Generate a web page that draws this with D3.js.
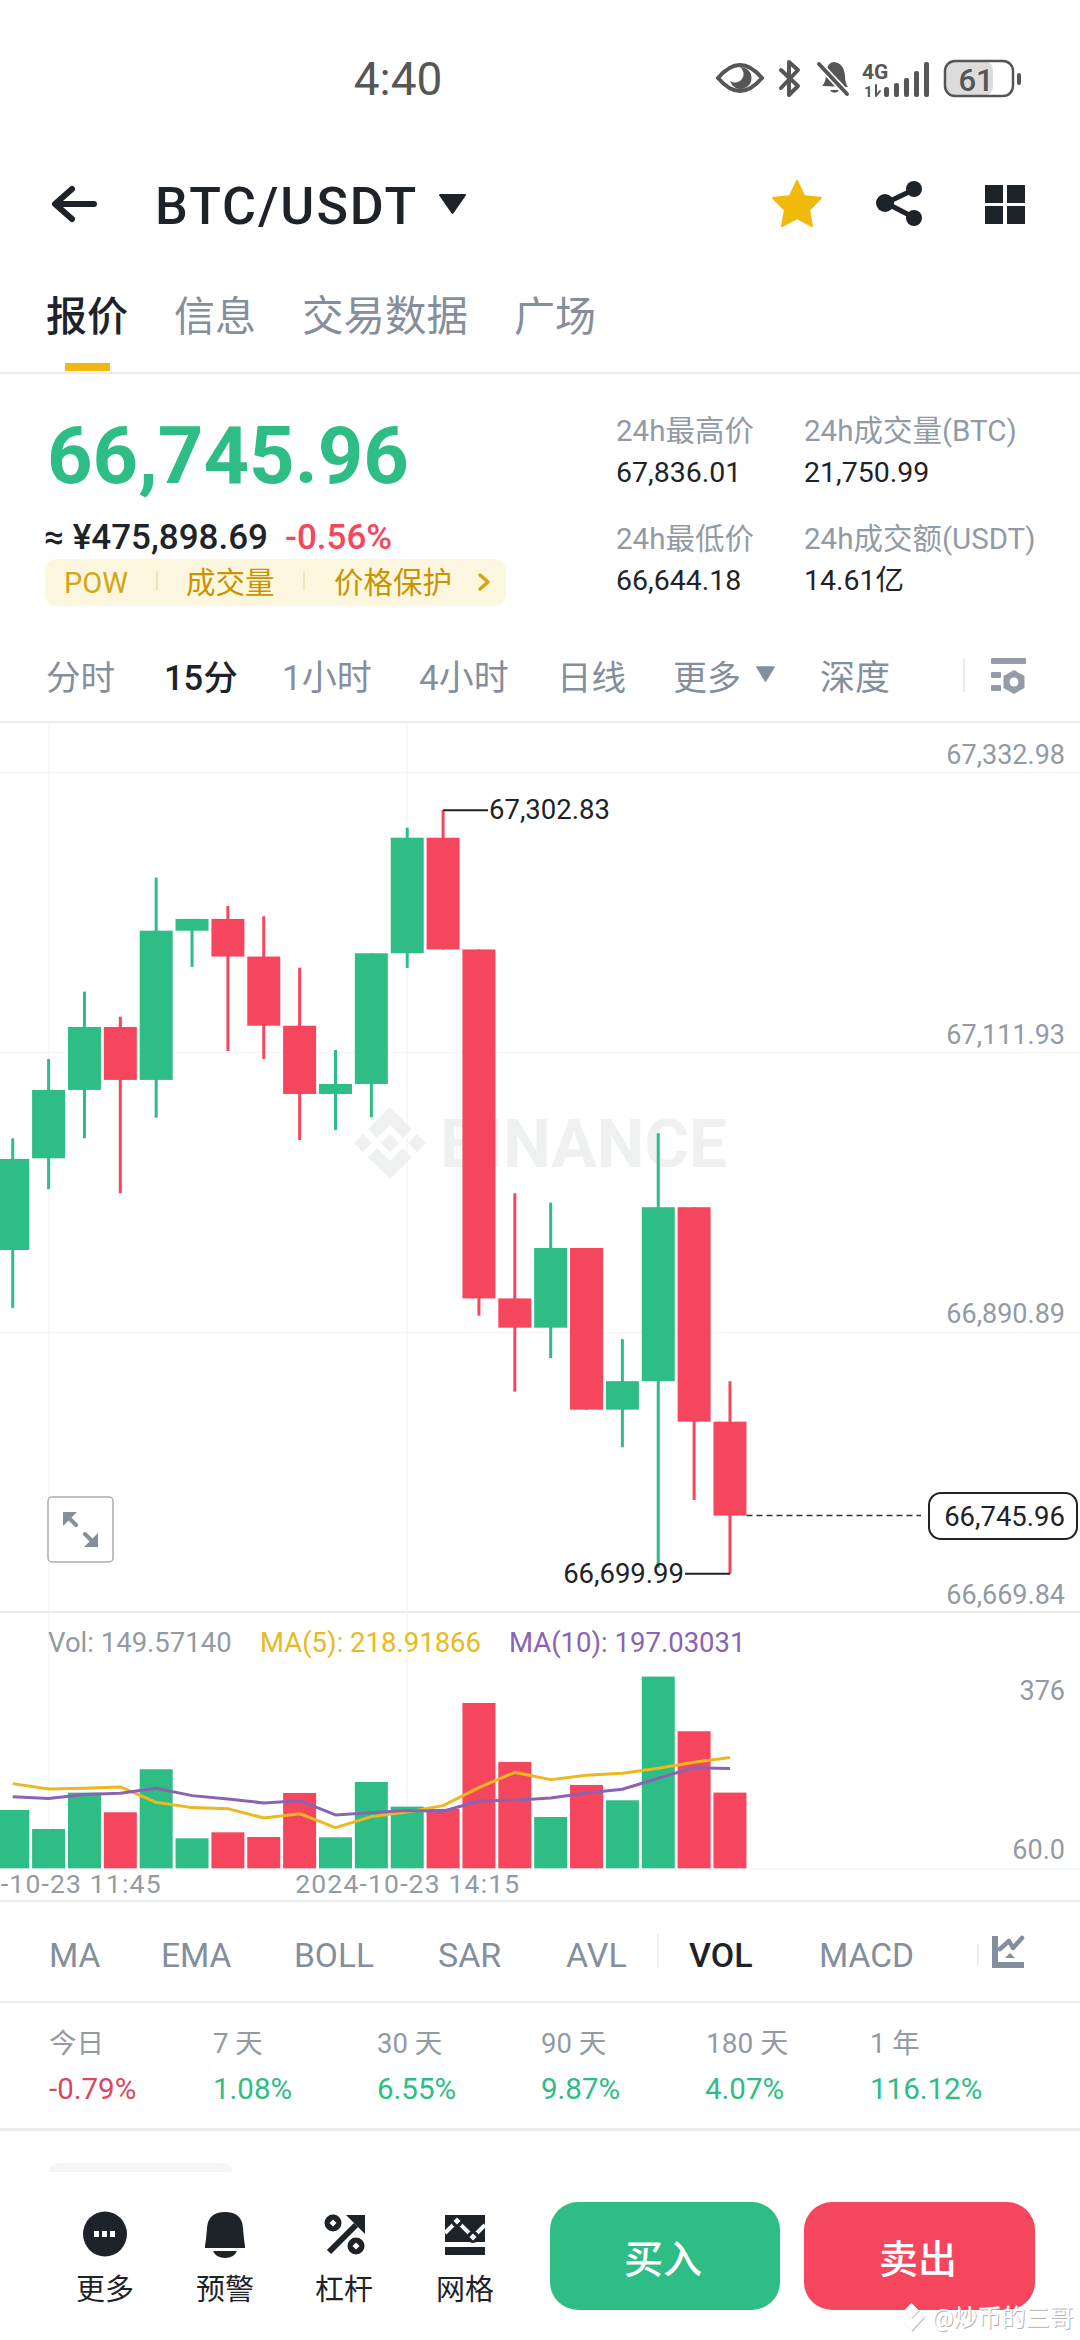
<!DOCTYPE html>
<html>
<head>
<meta charset="utf-8">
<script src="https://cdn.jsdelivr.net/npm/d3@7"></script>
<style>
html, body { margin: 0; padding: 0; background: #fff; }
svg { display: block; }
text { font-family: Roboto, "Noto Sans CJK SC", sans-serif; }
</style>
</head>
<body>
<svg id="screen" width="1080" height="2340"></svg>
<script>
var times = ["2024-10-23 11:30", "2024-10-23 11:45", "2024-10-23 12:00", "2024-10-23 12:15", "2024-10-23 12:30", "2024-10-23 12:45", "2024-10-23 13:00",
	"2024-10-23 13:15", "2024-10-23 13:30", "2024-10-23 13:45", "2024-10-23 14:00", "2024-10-23 14:15", "2024-10-23 14:30", "2024-10-23 14:45",
	"2024-10-23 15:00", "2024-10-23 15:15", "2024-10-23 15:30", "2024-10-23 15:45", "2024-10-23 16:00", "2024-10-23 16:15", "2024-10-23 16:30"];
var opens = [66955.6, 67028, 67082, 67131.7, 67089.9, 67207.7, 67217, 67187.3, 67132.7, 67078.8, 67086.7, 67189.9, 67281.1, 67192.9, 66917.4, 66894.3, 66957.2, 66829.6, 66852.1, 66989.4, 66820.1];
var closes = [67027.5, 67082, 67131.7, 67089.9, 67207.7, 67217, 67187.3, 67132.7, 67078.8, 67086.7, 67189.9, 67281.1, 67192.9, 66917.4, 66894.3, 66957.2, 66829.6, 66852.1, 66989.4, 66820.1, 66745.96];
var highs = [67043.8, 67106.4, 67159.6, 67139.8, 67249.6, 67217, 67227.2, 67219.1, 67178.5, 67113.5, 67189.9, 67289, 67302.83, 67192.9, 67000.4, 66993, 66957.2, 66885.2, 67047.8, 66989.4, 66852];
var lows = [66909.9, 67003.6, 67043.8, 67000.4, 67060.1, 67179.1, 67112.7, 67106.4, 67042.5, 67050.4, 67060.4, 67178.3, 67192.9, 66903.8, 66843.8, 66870.2, 66829.6, 66799.9, 66704.6, 66758.3, 66699.99];
var volumes = [115.3, 77.7, 149.5, 110.7, 195.7, 59.3, 71.1, 61.9, 148.9, 61.3, 170.6, 121.9, 117.3, 326.7, 210.1, 101.4, 164.7, 134.4, 378.8, 270.8, 149.57];
var ma5 = [167.3, 156.8, 158.1, 160.7, 130.4, 119.9, 117.9, 99.5, 108, 80.4, 102.1, 111.3, 123.8, 159.4, 189.7, 175.2, 183.8, 187.7, 197.6, 209.5, 218.92];
var ma10 = [141.6, 137.7, 145.6, 148.2, 158.1, 143.6, 137, 129.1, 133.7, 105.4, 110, 114, 112.6, 133.1, 134.4, 139, 148.9, 156.1, 177.9, 198.9, 197.03];
var priceTicks = [67332.98, 67111.93, 66890.89, 66669.84];
var volumeTicks = [376, 60];
var timeTicks = ["2024-10-23 11:45", "2024-10-23 14:15"];

var GREEN = "#2ebd85", RED = "#f6465d", GOLD = "#f0b90b", PURPLE = "#8a63b5",
	DARK = "#1e2329", GREY = "#929aa5", MUTED = "#848e9c", LINE = "#eaecef", GRID = "#f5f6f6";

var svg = d3.select("#screen");

function label(str, x, y, size, color, weight, anchor) {
	return svg.append("text")
		.attr("x", x)
		.attr("y", y)
		.attr("font-size", size)
		.attr("fill", color || DARK)
		.attr("font-weight", weight || 400)
		.attr("text-anchor", anchor || "start")
		.text(str);
}

function rule(y, height, color) {
	svg.append("rect").attr("x", 0).attr("y", y).attr("width", 1080).attr("height", height).attr("fill", color || LINE);
}

function shape(d, fill, stroke, width) {
	return svg.append("path")
		.attr("d", d)
		.attr("fill", fill || "none")
		.attr("stroke", stroke || "none")
		.attr("stroke-width", width || 0)
		.attr("stroke-linecap", "round")
		.attr("stroke-linejoin", "round");
}

function box(px, py, w, h, fill, rx) {
	return svg.append("rect").attr("x", px).attr("y", py).attr("width", w).attr("height", h).attr("fill", fill).attr("rx", rx || 0);
}

function ring(cx, cy, r, fill) {
	return svg.append("circle").attr("cx", cx).attr("cy", cy).attr("r", r).attr("fill", fill);
}

// status bar
var STATUS = "#565656";
label("4:40", 398, 95, 46, STATUS, 400, "middle");
shape("M718,78Q740,52 762,78Q740,104 718,78Z", "none", STATUS, 4);
shape("M740,67a11,11 0 1,1 -10,14a7,7 0 0,0 10,-14Z", STATUS);
shape("M781,70L798,86L789,95V62L798,70L781,88", "none", STATUS, 4);
shape("M822,86Q826,82 826,74Q827,62 834,62Q844,63 845,76Q845,83 848,87Z", STATUS);
shape("M830,90a5,5 0 0,0 9,0Z", STATUS);
shape("M819,64L847,94", "none", "#fff", 7);
shape("M819,64L847,94", "none", STATUS, 4);
label("4G", 862, 79, 21, STATUS, 700);
label("1", 864, 97, 15, STATUS, 700);
shape("M876,85V96M876,96L880,91", "none", STATUS, 2);
var signalTops = [87, 83, 78, 71, 62];
signalTops.forEach(function (top, i) {
	box(884 + i * 10, top, 5, 97 - top, STATUS, 2);
});
box(945, 61, 48, 35, "#dcdcdc", 9);
box(945, 61, 68, 35, "none", 10).attr("stroke", STATUS).attr("stroke-width", 2.5);
box(1017, 73, 4, 12, STATUS, 2);
label("61", 976, 91, 31, STATUS, 500, "middle");

// header
shape("M94,204H56M72,189L55,204L72,219", "none", DARK, 6);
label("BTC/USDT", 155, 224, 52, DARK, 500).attr("letter-spacing", 2);
shape("M440,195H465L452.5,213Z", DARK, DARK, 2);
shape("M797,181L804,196L821,198L809,210L812,226L797,218L782,226L785,210L773,198L790,196Z", GOLD, GOLD, 2);
shape("M915,189L886,203L915,218", "none", DARK, 5);
ring(914, 189, 8, DARK);
ring(885, 203, 9, DARK);
ring(914, 218, 8, DARK);
[[985, 185], [1007, 185], [985, 206], [1007, 206]].forEach(function (p) {
	box(p[0], p[1], 18, 18, DARK);
});

// tabs
label("报价", 46, 331, 41, DARK, 500);
label("信息", 174, 331, 41, MUTED);
label("交易数据", 302, 331, 41.5, MUTED);
label("广场", 514, 331, 41, MUTED);
box(65, 363, 45, 8, GOLD);
rule(372, 2);

// price block
label("66,745.96", 47, 483, 80, GREEN, 700).attr("textLength", 362).attr("lengthAdjust", "spacingAndGlyphs");
label("≈ ¥475,898.69", 44, 549, 35, DARK, 500);
label("-0.56%", 285, 549, 35, RED, 500);
box(45, 559, 461, 47, "#fdf6de", 12);
label("POW", 64, 593, 29, "#d4a514");
label("成交量", 186, 593, 29.5, "#c99400");
label("价格保护", 334, 593, 29.5, "#c99400");
shape("M157,572V590M304,572V590", "none", "#efe3b8", 2);
shape("M480,575L488,582L480,589", "none", "#d4a514", 3.5);

label("24h最高价", 616, 441, 29.5, GREY);
label("67,836.01", 616, 482, 28.5, DARK);
label("24h成交量(BTC)", 804, 441, 29.5, GREY);
label("21,750.99", 804, 482, 28.5, DARK);
label("24h最低价", 616, 549, 29.5, GREY);
label("66,644.18", 616, 590, 28.5, DARK);
label("24h成交额(USDT)", 804, 549, 29.5, GREY);
label("14.61亿", 804, 590, 28.5, DARK);

// chart period row
label("分时", 46, 690, 34.5, MUTED);
label("15分", 164, 690, 34.5, DARK, 500);
label("1小时", 282, 690, 35, MUTED);
label("4小时", 419, 690, 35, MUTED);
label("日线", 557, 690, 34.5, MUTED);
label("更多", 673, 690, 34, MUTED);
shape("M757,667H774L765.5,681Z", MUTED, MUTED, 1.5);
label("深度", 820, 690, 35, MUTED);
box(963, 658, 2, 34, LINE);
box(991, 658, 35, 6, "#949ca8", 1);
box(991, 672, 10, 6, "#949ca8", 1);
box(991, 685, 10, 6, "#949ca8", 1);
shape("M1014,670L1024.5,676V688L1014,694L1003.5,688V676Z", "#949ca8");
ring(1014, 682, 4.5, "#fff");
rule(721, 2);

// scales
var x = d3.scaleBand().domain(times).range([-5.2, 747.9]).paddingInner(0.08).paddingOuter(0.04);
var y = d3.scaleLinear().domain([66669.84, 67332.98]).range([1612, 772]);
var yVol = d3.scaleLinear().domain([0, 376]).range([1868.3, 1678]);
function centre(t) { return x(t) + x.bandwidth() / 2; }

// grid and axes
var xAxis = d3.axisBottom(x).tickValues(timeTicks).tickSize(-1146);
var xAxisG = svg.append("g").attr("transform", "translate(0,1868)").call(xAxis);
xAxisG.select(".domain").remove();
xAxisG.selectAll("line").attr("stroke", GRID).attr("stroke-width", 1.5);
xAxisG.selectAll("text").attr("y", 25).attr("dy", 0).attr("font-size", 26.5).attr("fill", GREY).attr("font-family", "Roboto")
	.attr("textLength", 224).attr("lengthAdjust", "spacing");

var yAxis = d3.axisRight(y).tickValues(priceTicks).tickSize(1080).tickFormat(d3.format(",.2f"));
var yAxisG = svg.append("g").call(yAxis);
yAxisG.select(".domain").remove();
yAxisG.selectAll("line").attr("stroke", GRID).attr("stroke-width", 1.5);
yAxisG.selectAll("text").attr("x", 1065).attr("dy", -9).attr("text-anchor", "end").attr("font-size", 27).attr("fill", GREY).attr("font-family", "Roboto");
rule(1611, 2);

// watermark
var logo = svg.append("g").attr("transform", "translate(390,1143)").attr("fill", "#eff1f1");
logo.append("path").attr("d", "M0,-36L22,-14L13,-5L0,-18L-13,-5L-22,-14ZM0,36L22,14L13,5L0,18L-13,5L-22,14ZM0,-9L9,0L0,9L-9,0ZM-27,-9L-18,0L-27,9L-36,0ZM27,-9L36,0L27,9L18,0Z");
label("BINANCE", 440, 1167, 66, "#eff1f1", 700).attr("textLength", 287).attr("lengthAdjust", "spacingAndGlyphs");

// candles
var candles = svg.append("g").selectAll("g").data(times).enter().append("g")
	.attr("fill", function (t, i) { return closes[i] >= opens[i] ? GREEN : RED; });
candles.append("rect")
	.attr("x", function (t) { return centre(t) - 1.5; })
	.attr("width", 3)
	.attr("y", function (t, i) { return y(highs[i]); })
	.attr("height", function (t, i) { return y(lows[i]) - y(highs[i]); });
candles.append("rect")
	.attr("x", function (t) { return x(t); })
	.attr("width", x.bandwidth())
	.attr("y", function (t, i) { return y(Math.max(opens[i], closes[i])); })
	.attr("height", function (t, i) { return Math.abs(y(opens[i]) - y(closes[i])); });

// extreme and last price marks
var last = times.length - 1, priceFormat = d3.format(",.2f");
svg.append("path").attr("fill", "none").attr("stroke", DARK).attr("stroke-width", 2)
	.attr("d", "M" + centre(times[12]) + "," + y(highs[12]) + "H488");
label(priceFormat(highs[12]), 489, y(highs[12]) + 9, 27.5, DARK);
svg.append("path").attr("fill", "none").attr("stroke", DARK).attr("stroke-width", 2)
	.attr("d", "M" + centre(times[last]) + "," + y(lows[last]) + "H685");
label(priceFormat(lows[last]), 684, y(lows[last]) + 9, 27.5, DARK, 400, "end");
svg.append("path").attr("fill", "none").attr("stroke", "#333").attr("stroke-width", 1.5).attr("stroke-dasharray", "6 4")
	.attr("d", "M" + (x(times[last]) + x.bandwidth()) + "," + y(closes[last]) + "H921");
box(929, 1493, 148, 46, "#fff", 12).attr("stroke", DARK).attr("stroke-width", 2);
label(priceFormat(closes[last]), 1065, 1526, 27.5, DARK, 400, "end");

// expand button
box(48, 1497, 65, 65, "#fff", 4).attr("stroke", "#a9adb2").attr("stroke-width", 1.5);
shape("M65,1514L76,1525M96,1545L85,1534", "none", MUTED, 4);
shape("M63,1526V1512H77Z M98,1533V1547H84Z", MUTED);

// volume panel
label("Vol: 149.57140", 48, 1652, 27.5, GREY);
label("MA(5): 218.91866", 260, 1652, 27.5, "#e8b923");
label("MA(10): 197.03031", 509, 1652, 27.5, PURPLE);

var yVolAxis = d3.axisLeft(yVol).tickValues(volumeTicks).tickSize(0).tickFormat(function (d) { return d == 60 ? "60.0" : d; });
var yVolAxisG = svg.append("g").attr("transform", "translate(1065,0)").call(yVolAxis);
yVolAxisG.select(".domain").remove();
yVolAxisG.selectAll("text").attr("x", 0).attr("dy", 21).attr("text-anchor", "end").attr("font-size", 27).attr("fill", GREY).attr("font-family", "Roboto");

box(0, 1868, 1080, 1.5, GRID);
svg.append("g").selectAll("rect").data(times).enter().append("rect")
	.attr("x", function (t) { return x(t); })
	.attr("width", x.bandwidth())
	.attr("y", function (t, i) { return yVol(volumes[i]); })
	.attr("height", function (t, i) { return yVol(0) - yVol(volumes[i]); })
	.attr("fill", function (t, i) { return closes[i] >= opens[i] ? GREEN : RED; });

var maLine = d3.line().x(function (d, i) { return centre(times[i]); }).y(function (d) { return yVol(d); });
svg.append("path").datum(ma5).attr("d", maLine).attr("fill", "none").attr("stroke", "#eeb71f").attr("stroke-width", 3).attr("stroke-linejoin", "round");
svg.append("path").datum(ma10).attr("d", maLine).attr("fill", "none").attr("stroke", PURPLE).attr("stroke-width", 3).attr("stroke-linejoin", "round");

// indicator row
rule(1900, 2);
label("MA", 49, 1967, 33.5, MUTED);
label("EMA", 161, 1967, 33.5, MUTED);
label("BOLL", 294, 1967, 33.5, MUTED);
label("SAR", 438, 1967, 34, MUTED);
label("AVL", 566, 1967, 34, MUTED);
box(657, 1934, 1.5, 34, LINE);
label("VOL", 689, 1967, 34, DARK, 500);
label("MACD", 819, 1967, 33.5, MUTED);
box(977, 1944, 2, 22, LINE);
box(992, 1936, 6, 32, MUTED);
box(992, 1962, 32, 6, MUTED);
shape("M1000,1949L1009,1941L1013,1948L1022,1938", "none", MUTED, 4.5);
shape("M1005,1958L1010,1953L1015,1958Z", MUTED);
rule(2001, 2);

// returns row
label("今日", 49, 2053, 27.5, GREY);
label("7 天", 213, 2053, 27.5, GREY);
label("30 天", 377, 2053, 27.5, GREY);
label("90 天", 541, 2053, 27.5, GREY);
label("180 天", 706, 2053, 28, GREY);
label("1 年", 870, 2053, 27.5, GREY);
label("-0.79%", 49, 2099, 29.5, "#d9475e");
label("1.08%", 213, 2099, 29.5, GREEN);
label("6.55%", 377, 2099, 29.5, GREEN);
label("9.87%", 541, 2099, 29.5, GREEN);
label("4.07%", 705, 2099, 29.5, GREEN);
label("116.12%", 870, 2099, 29.5, GREEN);
rule(2128, 3);
shape("M48,2172Q50,2163 60,2163H221Q231,2163 233,2172Z", "#f5f6f6");

// bottom bar
svg.append("ellipse").attr("cx", 105).attr("cy", 2234).attr("rx", 22).attr("ry", 22.5).attr("fill", DARK);
[94, 102, 110].forEach(function (dx) {
	box(dx, 2231, 5, 6, "#fff");
});
shape("M205,2246Q206,2240 207,2228Q208,2212 225,2212Q242,2212 243,2228Q244,2240 245,2246V2248H205Z", DARK);
shape("M213,2251H237Q234,2258 225,2258Q216,2258 213,2251Z", DARK);

ring(333, 2223, 8.5, DARK);
shape("M333,2219.5L336.5,2223L333,2226.5L329.5,2223Z", "#fff");
ring(356, 2246, 8.5, DARK);
shape("M356,2242.5L359.5,2246L356,2249.5L352.5,2246Z", "#fff");
shape("M346,2215H365V2234Z", DARK);
shape("M329,2252L356,2225", "none", DARK, 6).attr("stroke-linecap", "butt");

box(445, 2215, 40, 27, DARK);
box(445, 2247, 40, 8, DARK);
shape("M445,2233L457,2221L473,2237L485,2225", "none", "#fff", 4).attr("stroke-linecap", "butt").attr("stroke-linejoin", "miter");
[[457, 2221], [473, 2237]].forEach(function (p) {
	ring(p[0], p[1], 6, DARK);
	shape("M" + p[0] + "," + (p[1] - 3.5) + "l3.5,3.5l-3.5,3.5l-3.5,-3.5Z", "#fff");
});

label("更多", 105, 2300, 29, DARK, 400, "middle");
label("预警", 225, 2300, 29, DARK, 400, "middle");
label("杠杆", 344, 2300, 29, DARK, 400, "middle");
label("网格", 465, 2300, 29, DARK, 400, "middle");
box(550, 2202, 230, 108, GREEN, 28);
box(804, 2202, 231, 108, RED, 28);
label("买入", 663, 2273, 39, "#fff", 500, "middle");
label("卖出", 918, 2273, 39, "#fff", 500, "middle");

// site watermark in the corner
var corner = "M911.5,2303L919,2310.5L911.5,2318L904,2310.5Z M899,2317L904,2312L911.5,2319.5L919,2312L924,2317L911.5,2331Z";
shape(corner, "#c4c4c4").attr("transform", "translate(1,1)");
shape(corner, "#fff");
label("@炒币的三哥", 932, 2326, 24, "#b5b5b5").attr("transform", "translate(1,1)");
label("@炒币的三哥", 932, 2326, 24, "#fff");
</script>
</body>
</html>
